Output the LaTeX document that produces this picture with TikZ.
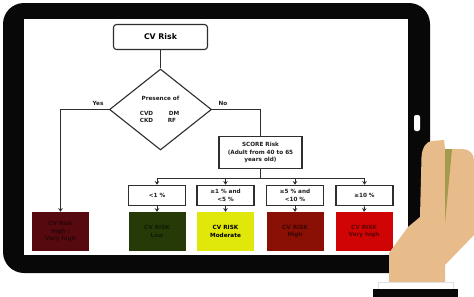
\documentclass[tikz,border=0pt]{standalone}
\usepackage{fontspec}
\setmainfont{DejaVu Sans}
\usetikzlibrary{shapes.geometric,arrows.meta}
\definecolor{skin}{HTML}{E8BC8A}
\definecolor{olive}{HTML}{A39A4E}
\definecolor{line}{HTML}{2E2E2E}
\definecolor{riskvh}{HTML}{560A10}
\definecolor{risklow}{HTML}{263A08}
\definecolor{riskmod}{HTML}{DFE80A}
\definecolor{riskhigh}{HTML}{8A0F05}
\definecolor{risktop}{HTML}{D00404}
\definecolor{inkvh}{HTML}{2C0508}
\definecolor{inklow}{HTML}{121C04}
\definecolor{inkhigh}{HTML}{3A0603}
\definecolor{inktop}{HTML}{5A0202}
\tikzset{
  x=1pt,y=-1pt,
  txt/.style={font=\bfseries\fontsize{5.7}{7.5}\selectfont,align=center,text=#1},
  txt/.default=black!88,
  optionbox/.style={draw=line,line width=1.1pt,fill=white,minimum width=57pt,minimum height=20.5pt,inner sep=0pt,txt},
  riskbox/.style={minimum width=57pt,minimum height=39pt,inner sep=0pt,txt=#1},
  link/.style={draw=line,line width=1pt},
  arrowlink/.style={link,-{Stealth[length=3.6pt,width=4.6pt]}}
}
\begin{document}
\begin{tikzpicture}
\useasboundingbox (0,0) rectangle (474,297);
\fill[white] (0,0) rectangle (474,297);
% tablet body, screen and button
\fill[black!97,rounded corners=21pt] (3,3) rectangle (430,273);
\fill[white] (24,19) rectangle (408,255);
\fill[white,rounded corners=2pt] (414,115) rectangle (420,131);

% flowchart
\node[draw=line,line width=1.1pt,rounded corners=3pt,minimum width=94pt,minimum height=25pt,inner sep=0pt,
      font=\bfseries\fontsize{7.8}{9}\selectfont] (risk) at (160.5,37) {CV Risk};
\node[diamond,draw=line,line width=1.1pt,minimum width=102pt,minimum height=81pt,inner sep=0pt,aspect=1.26] (presence) at (160.5,109.5) {};
\node[txt] (ptitle) at (160.5,98) {Presence of};
\node[txt] (pa) at (146.5,113) {CVD};
\node[txt] (pb) at (174,113) {DM};
\node[txt] (pc) at (146.5,120.5) {CKD};
\node[txt] (pd) at (172,120.5) {RF};
\node[txt] (yes) at (98,103) {Yes};
\node[txt] (no) at (223,103) {No};

\node[draw=line,line width=1.1pt,minimum width=83pt,minimum height=32pt,inner sep=0pt,txt,fill=white] (score) at (260.5,152.5)
  {SCORE Risk\\(Adult from 40 to 65\\years old)};

\node[optionbox] (o1) at (157,195.5) {<1 \%};
\node[optionbox] (o2) at (225.5,195.5) {≥1 \% and\\<5 \%};
\node[optionbox] (o3) at (295,195.5) {≥5 \% and\\<10 \%};
\node[optionbox] (o4) at (364.5,195.5) {≥10 \%};

\node[riskbox=inkvh,fill=riskvh] (r0) at (60.5,231.5) {CV Risk\\High /\\Very high};
\node[riskbox=inklow,fill=risklow] (r1) at (157,231.5) {CV RISK\\Low};
\node[riskbox=black,fill=riskmod] (r2) at (225.5,231.5) {CV RISK\\Moderate};
\node[riskbox=inkhigh,fill=riskhigh] (r3) at (295,231.5) {CV RISK\\High};
\node[riskbox=inktop,fill=risktop] (r4) at (364,231.5) {CV RISK\\Very high};

% connectors
\coordinate (yesbend) at (r0.north |- presence.west);
\coordinate (nobend) at (score.north |- presence.east);
\coordinate (bus) at (score.south |- 0,178);
\coordinate (busleft) at (o1.north |- bus);
\coordinate (busa) at (o2.north |- bus);
\coordinate (busb) at (o3.north |- bus);
\coordinate (busright) at (o4.north |- bus);
\draw[link] (risk.south) -- (presence.north);
\draw[arrowlink] (presence.west) -- (yesbend) -- (r0.north);
\draw[link] (presence.east) -- (nobend) -- (score.north);
\draw[link] (score.south) -- (bus);
\draw[link] (busleft) -- (busright);
\draw[arrowlink] (busleft) -- (o1.north);
\draw[arrowlink] (busa) -- (o2.north);
\draw[arrowlink] (busb) -- (o3.north);
\draw[arrowlink] (busright) -- (o4.north);
\draw[arrowlink] (o1.south) -- (r1.north);
\draw[arrowlink] (o2.south) -- (r2.north);
\draw[arrowlink] (o3.south) -- (r3.north);
\draw[arrowlink] (o4.south) -- (r4.north);

% hand holding the tablet
\fill[skin] (389,282) -- (389,253) -- (408,227) -- (420,217) -- (421.5,157)
  .. controls (422,147) and (427,141) .. (432,141) -- (444,140) -- (445,149) -- (463,149)
  .. controls (469,149) and (474,154) .. (474,160) -- (474,235) -- (445,265) -- (445,282) -- cycle;
\fill[olive] (445,149) -- (452,149) -- (445,223) -- cycle;
% shirt cuff
\fill[white,draw=black!12,line width=0.6pt] (378,282) rectangle (453,289);
\fill[black!97] (373,289) rectangle (458,297);
\end{tikzpicture}
\end{document}
